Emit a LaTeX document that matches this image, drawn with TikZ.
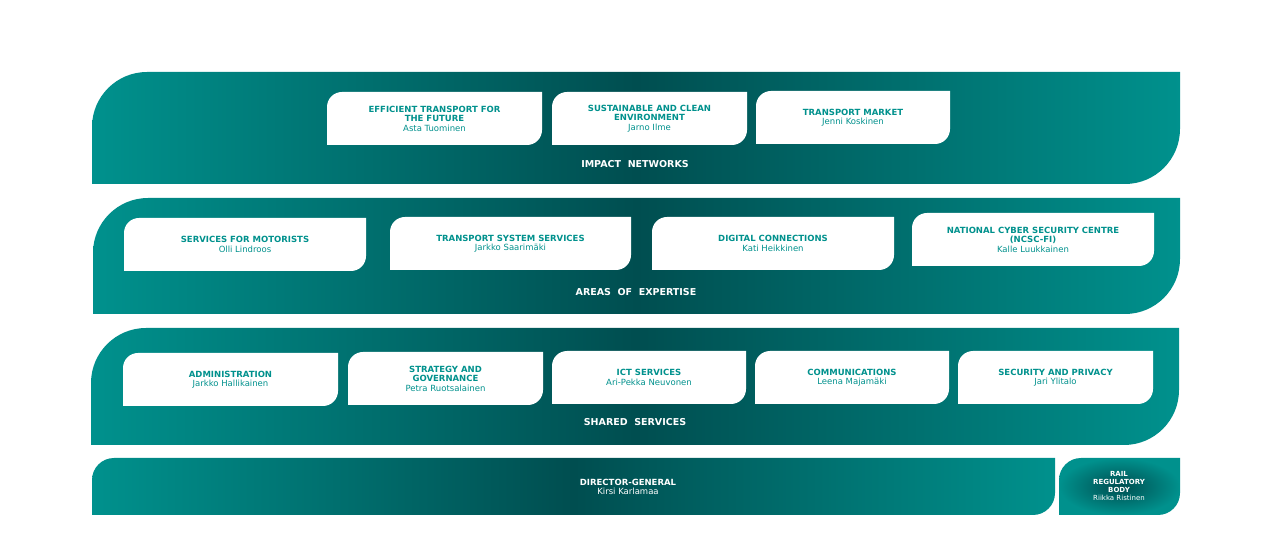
\documentclass[tikz,border=0pt]{standalone}
\usepackage{fontspec}
\setmainfont{DejaVu Sans}
\definecolor{teal1}{HTML}{00918D}
\definecolor{dark1}{HTML}{004E50}
\begin{document}
\begin{tikzpicture}[x=1pt,y=1pt,
  band/.style={left color=teal1,right color=teal1,middle color=dark1},
  title/.style={align=center,text=teal1,font=\bfseries\fontsize{8.5}{9.5}\selectfont,inner sep=0pt},
  blabel/.style={text=white,font=\bfseries\fontsize{9.5}{11}\selectfont,inner sep=0pt}]
\useasboundingbox (0,0) rectangle (1278,541);
\newcommand{\myshape}[6]{\shade[#6] (#1,541-#4) -- (#1,541-#2-#5) arc(180:90:#5) -- (#3,541-#2) -- (#3,541-#4+#5) arc(0:-90:#5) -- cycle;}
\newcommand{\mybox}[7]{\fill[white] (#1,541-#4) -- (#1,541-#2-15) arc(180:90:15) -- (#3,541-#2) -- (#3,541-#4+15) arc(0:-90:15) -- cycle;
  \node[title] (#7) at ({(#1+#3)/2},{541-(#2+#4)/2}) {#5\\\mdseries #6};}
\myshape{92}{72}{1180}{184}{55}{band}
\myshape{93}{198}{1180}{314}{55}{band}
\myshape{91}{328}{1179}{445}{55}{band}
\myshape{92}{458}{1055}{515}{22}{band}
\myshape{1059}{458}{1180}{515}{22}{inner color=dark1,outer color=teal1}
\node[blabel] (l1) at (635,541-164) {IMPACT\ \ NETWORKS};
\node[blabel] (l2) at (636,541-292) {AREAS\ \ OF\ \ EXPERTISE};
\node[blabel] (l3) at (635,541-422) {SHARED\ \ SERVICES};
\node[align=center,text=white,font=\bfseries\fontsize{8.5}{9.5}\selectfont,inner sep=0pt] (dg) at (628,541-487) {DIRECTOR-GENERAL\\\mdseries Kirsi Karlamaa};
\node[align=center,text=white,font=\bfseries\fontsize{7}{8}\selectfont,inner sep=0pt] (rail) at (1119,541-486) {RAIL\\REGULATORY\\BODY\\\mdseries Riikka Ristinen};
\mybox{327}{92}{542}{145}{EFFICIENT TRANSPORT FOR\\THE FUTURE}{Asta Tuominen}{b1}
\mybox{552}{92}{747}{145}{SUSTAINABLE AND CLEAN\\ENVIRONMENT}{Jarno Ilme}{b2}
\mybox{756}{91}{950}{144}{TRANSPORT MARKET}{Jenni Koskinen}{b3}
\mybox{124}{218}{366}{271}{SERVICES FOR MOTORISTS}{Olli Lindroos}{b4}
\mybox{390}{217}{631}{270}{TRANSPORT SYSTEM SERVICES}{Jarkko Saarimäki}{b5}
\mybox{652}{217}{894}{270}{DIGITAL CONNECTIONS}{Kati Heikkinen}{b6}
\mybox{912}{213}{1154}{266}{NATIONAL CYBER SECURITY CENTRE\\(NCSC-FI)}{Kalle Luukkainen}{b7}
\mybox{123}{353}{338}{406}{ADMINISTRATION}{Jarkko Hallikainen}{b8}
\mybox{348}{352}{543}{405}{STRATEGY AND\\GOVERNANCE}{Petra Ruotsalainen}{b9}
\mybox{552}{351}{746}{404}{ICT SERVICES}{Ari-Pekka Neuvonen}{b10}
\mybox{755}{351}{949}{404}{COMMUNICATIONS}{Leena Majamäki}{b11}
\mybox{958}{351}{1153}{404}{SECURITY AND PRIVACY}{Jari Ylitalo}{b12}
\end{tikzpicture}
\end{document}
